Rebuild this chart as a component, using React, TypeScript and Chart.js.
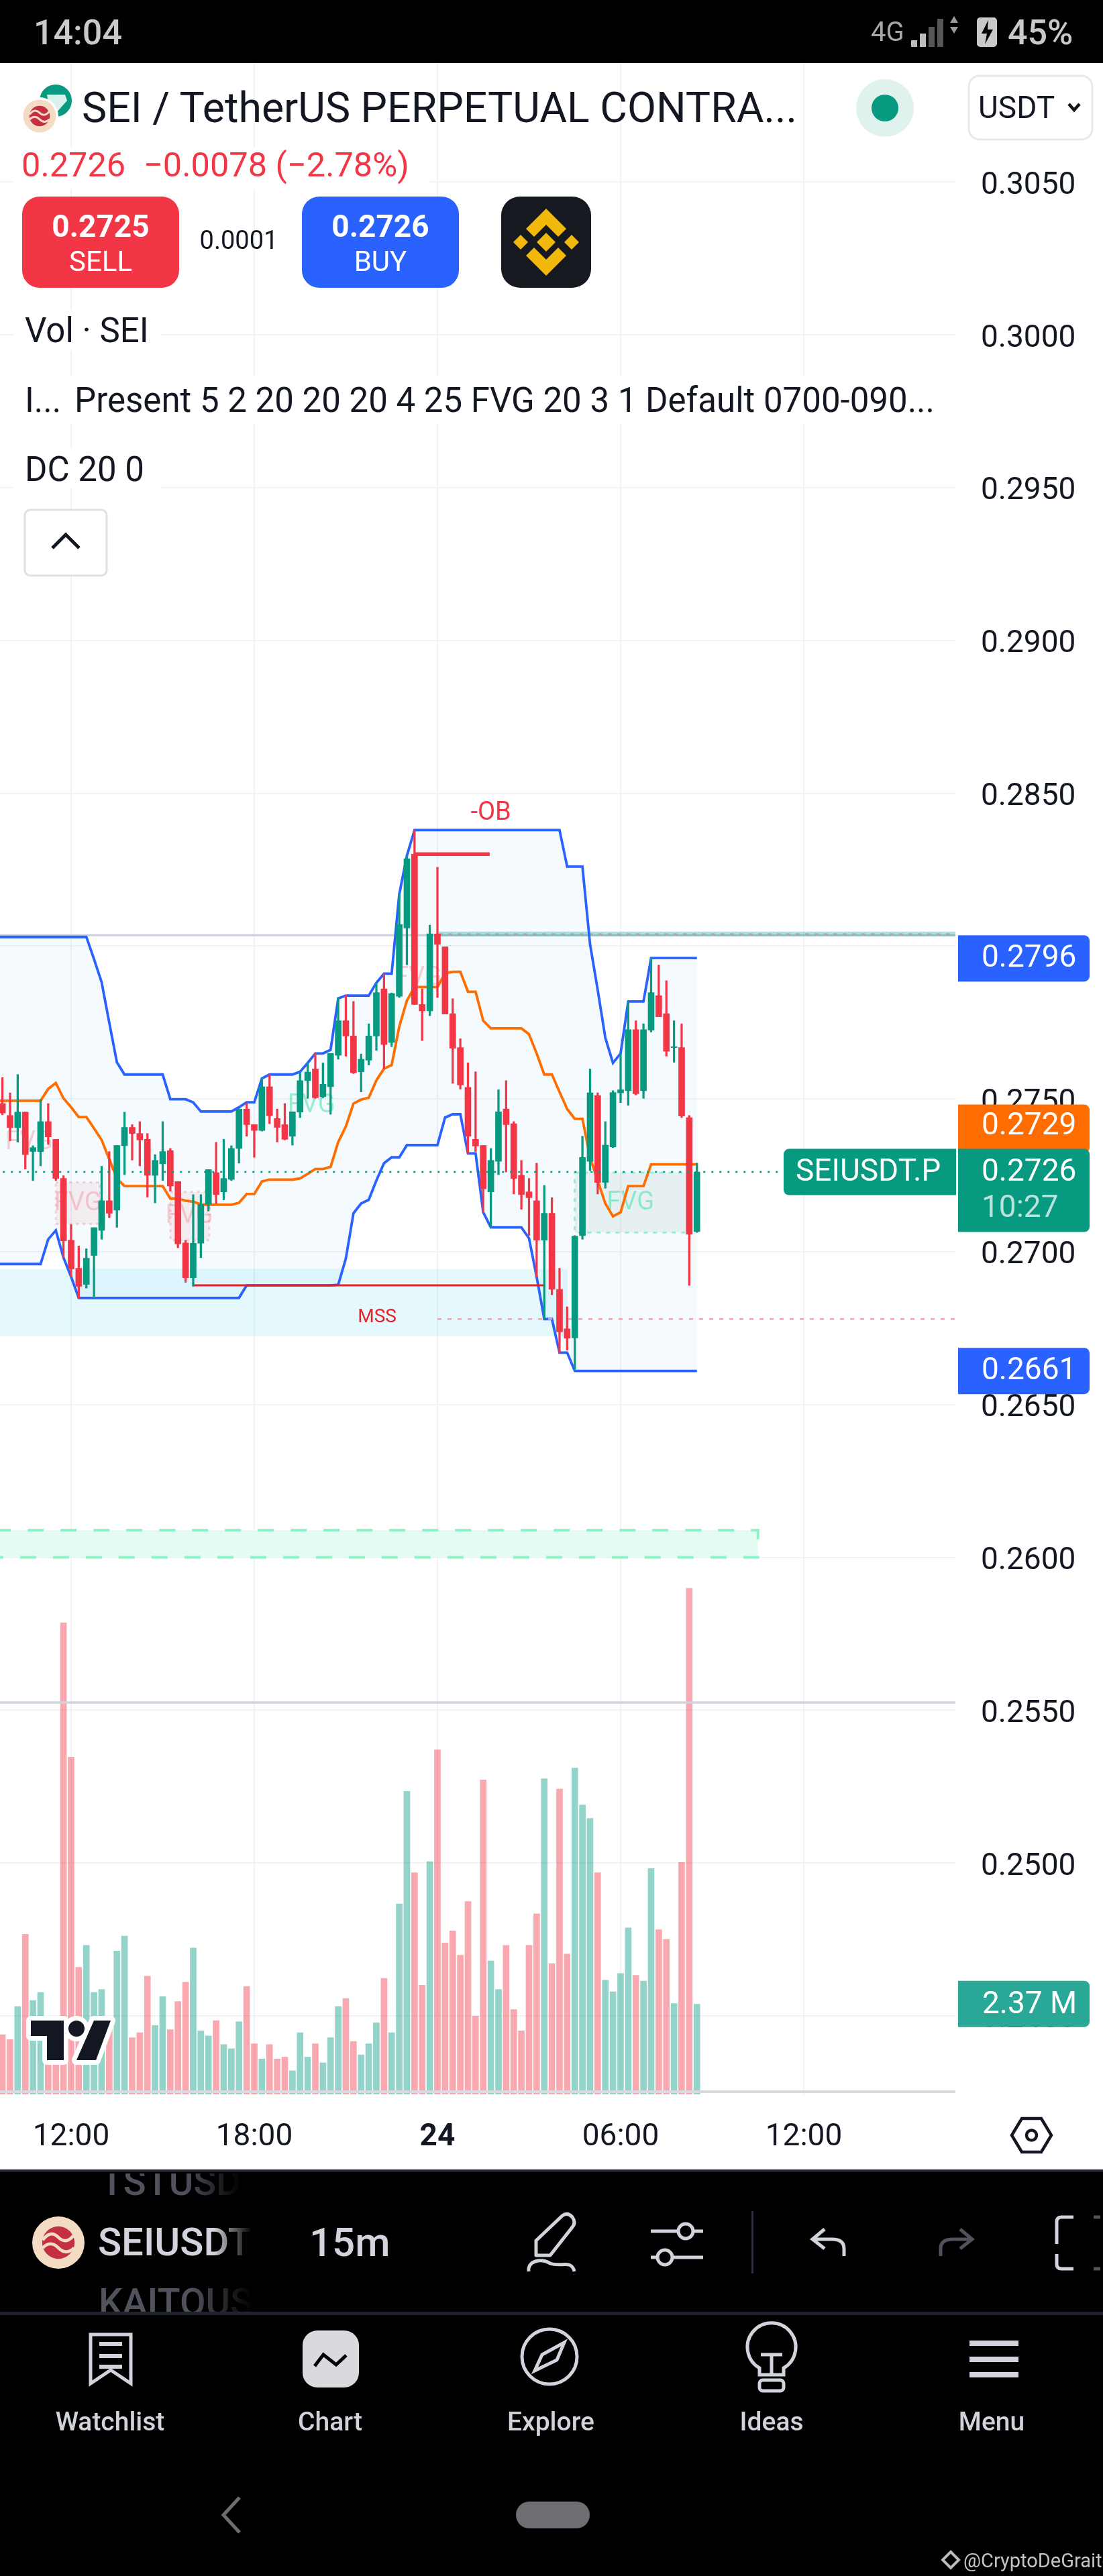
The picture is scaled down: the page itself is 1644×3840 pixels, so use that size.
import React, { useEffect, useRef } from "react";
import { Chart, registerables } from "chart.js";

Chart.register(...registerables);

const FONT = "Roboto";
const GREEN = "#089981";
const RED = "#f23645";
const BLUE = "#2962ff";
const ORANGE = "#ff6d00";

// 15m candles, oldest first
const opens = [
  0.27485, 0.27446, 0.27406, 0.27457, 0.27328, 0.27328, 0.27426, 0.27368, 0.2724, 0.27038, 0.26946, 0.26893,
  0.26988, 0.2707, 0.27167, 0.27136, 0.27347, 0.27407, 0.27387, 0.27368, 0.2725, 0.27288, 0.27331, 0.2723,
  0.27029, 0.26915, 0.27028, 0.27155, 0.27259, 0.27196, 0.27237, 0.27338, 0.27467, 0.27416, 0.27397, 0.2754,
  0.27436, 0.27416, 0.27378, 0.27457, 0.2756, 0.27598, 0.27507, 0.2754, 0.27643, 0.27756, 0.27706, 0.27589,
  0.27627, 0.27706, 0.2786, 0.27685, 0.27836, 0.28059, 0.28301, 0.27809, 0.27788, 0.2804, 0.27998, 0.27779,
  0.27668, 0.27538, 0.27368, 0.27348, 0.27196, 0.27296, 0.27467, 0.27419, 0.2725, 0.27196, 0.27167, 0.27038,
  0.27126, 0.26877, 0.26748, 0.26718, 0.27053, 0.27296, 0.27511, 0.27227, 0.27343, 0.2752, 0.27527, 0.27727,
  0.27527, 0.27725, 0.27838, 0.27779, 0.27668, 0.27668, 0.27439, 0.27066,
];
const highs = [
  0.2757, 0.2752, 0.2758, 0.27457, 0.27347, 0.27498, 0.27485, 0.27368, 0.27249, 0.27089, 0.27019, 0.2701,
  0.27079, 0.2728, 0.27328, 0.27348, 0.27457, 0.27416, 0.27426, 0.27387, 0.27318, 0.27426, 0.27338, 0.2723,
  0.27038, 0.27187, 0.27187, 0.27269, 0.27358, 0.27368, 0.27347, 0.27467, 0.27485, 0.27416, 0.2757, 0.2758,
  0.27467, 0.27485, 0.27458, 0.27586, 0.27618, 0.27649, 0.27618, 0.27649, 0.27832, 0.27838, 0.27819, 0.27647,
  0.27746, 0.2788, 0.27908, 0.27847, 0.2817, 0.28296, 0.2838, 0.2786, 0.28069, 0.28258, 0.27998, 0.27828,
  0.27697, 0.27618, 0.27589, 0.27348, 0.27338, 0.2753, 0.2756, 0.27426, 0.27299, 0.2724, 0.2729, 0.27217,
  0.27177, 0.26946, 0.2682, 0.27053, 0.27378, 0.27598, 0.2752, 0.27426, 0.27527, 0.27649, 0.27819, 0.27756,
  0.27746, 0.27961, 0.27938, 0.27887, 0.27756, 0.27746, 0.27446, 0.2729,
];
const lows = [
  0.27448, 0.27363, 0.27359, 0.27271, 0.27233, 0.27281, 0.27351, 0.27233, 0.26981, 0.26918, 0.26849, 0.26881,
  0.26849, 0.27041, 0.27111, 0.2708, 0.27252, 0.273, 0.27281, 0.27179, 0.2716, 0.27233, 0.27198, 0.27013,
  0.269, 0.26887, 0.26981, 0.27133, 0.27158, 0.2717, 0.27233, 0.2729, 0.27378, 0.27309, 0.27395, 0.27419,
  0.27359, 0.27366, 0.27349, 0.27439, 0.27502, 0.27502, 0.27504, 0.2745, 0.2763, 0.2764, 0.27583, 0.27523,
  0.27611, 0.27659, 0.27599, 0.27671, 0.27832, 0.27939, 0.27809, 0.27691, 0.27772, 0.27832, 0.27778, 0.27551,
  0.27532, 0.27322, 0.27328, 0.27129, 0.2708, 0.27252, 0.27261, 0.27189, 0.27139, 0.27053, 0.26918, 0.2678,
  0.26859, 0.2667, 0.26678, 0.2661, 0.27041, 0.27265, 0.27189, 0.27208, 0.27341, 0.27488, 0.27479, 0.27513,
  0.27502, 0.27719, 0.27769, 0.2764, 0.2762, 0.27439, 0.2689, 0.27063,
];
const closes = [
  0.27454, 0.27406, 0.27457, 0.27318, 0.27341, 0.27426, 0.27376, 0.2724, 0.27036, 0.26944, 0.26887, 0.26979,
  0.27079, 0.27167, 0.27126, 0.27348, 0.27407, 0.27387, 0.27366, 0.2725, 0.27299, 0.27328, 0.27215, 0.27026,
  0.26915, 0.27028, 0.27155, 0.27269, 0.27187, 0.2724, 0.27338, 0.27467, 0.27416, 0.27397, 0.2754, 0.27445,
  0.27407, 0.27368, 0.27458, 0.2756, 0.27588, 0.27504, 0.27548, 0.27649, 0.27756, 0.27706, 0.27586, 0.2763,
  0.27706, 0.27848, 0.27678, 0.27845, 0.28071, 0.28286, 0.27809, 0.27788, 0.2804, 0.28006, 0.27778, 0.27666,
  0.27546, 0.27378, 0.27346, 0.27206, 0.27299, 0.27458, 0.27416, 0.2724, 0.27187, 0.27177, 0.27038, 0.27126,
  0.26877, 0.26738, 0.26717, 0.27051, 0.27309, 0.2752, 0.27227, 0.27349, 0.27521, 0.2753, 0.27727, 0.27517,
  0.27727, 0.27848, 0.27769, 0.27656, 0.27671, 0.27444, 0.27057, 0.27261,
];

// volume in millions
const volumes = [
  1.57, 1.44, 2.31, 4.21, 2.47, 2.68, 1.34, 1.44, 12.4, 8.87, 3.34, 3.92,
  2.68, 2.76, 1.74, 3.77, 4.16, 1.49, 1.62, 3.11, 1.81, 2.57, 1.7, 2.44,
  2.95, 3.85, 1.67, 1.54, 1.94, 1.31, 1.2, 1.91, 2.84, 1.33, 0.93, 1.31,
  0.93, 0.98, 0.62, 1.62, 0.98, 1.33, 0.83, 1.49, 2.31, 2.52, 1.39, 1.04,
  1.33, 1.88, 3.05, 1.62, 5.01, 7.97, 5.83, 2.87, 6.12, 9.06, 3.98, 4.3,
  3.66, 5.07, 2.06, 8.27, 3.51, 2.76, 3.92, 2.23, 1.67, 3.92, 4.75, 8.3,
  3.44, 8.03, 3.69, 8.58, 7.61, 7.26, 5.83, 3.0, 2.7, 3.18, 4.38, 3.13,
  2.98, 5.94, 4.33, 4.08, 2.39, 6.1, 13.31, 2.37,
];

// Donchian channel
const dcUpper = [
  0.2803, 0.2803, 0.2803, 0.2803, 0.2803, 0.2803, 0.2803, 0.2803, 0.2803, 0.2803, 0.2803, 0.2803,
  0.27958, 0.27882, 0.2775, 0.2762, 0.2758, 0.2758, 0.2758, 0.2758, 0.2758, 0.2758, 0.27499, 0.27499,
  0.27499, 0.27489, 0.27459, 0.27459, 0.27459, 0.27459, 0.27459, 0.27473, 0.27489, 0.27489, 0.27567, 0.2758,
  0.2758, 0.2758, 0.2758, 0.27589, 0.27618, 0.27649, 0.27649, 0.27661, 0.27829, 0.27838, 0.27838, 0.27838,
  0.27838, 0.2788, 0.2791, 0.2791, 0.2817, 0.28296, 0.2838, 0.2838, 0.2838, 0.2838, 0.2838, 0.2838,
  0.2838, 0.2838, 0.2838, 0.2838, 0.2838, 0.2838, 0.2838, 0.2838, 0.2838, 0.2838, 0.2838, 0.2838,
  0.2838, 0.2838, 0.2826, 0.2826, 0.2826, 0.28006, 0.27857, 0.277, 0.27618, 0.27649, 0.27819, 0.27819,
  0.27819, 0.27961, 0.27961, 0.27961, 0.27961, 0.27961, 0.27961, 0.27961,
];
const dcLower = [
  0.2696, 0.2696, 0.2696, 0.2696, 0.2696, 0.2696, 0.27041, 0.2707, 0.26981, 0.26918, 0.26849, 0.26849,
  0.26849, 0.26849, 0.26849, 0.26849, 0.26849, 0.26849, 0.26849, 0.26849, 0.26849, 0.26849, 0.26849, 0.26849,
  0.26849, 0.26849, 0.26849, 0.26849, 0.26849, 0.26849, 0.26849, 0.26849, 0.2689, 0.2689, 0.2689, 0.2689,
  0.2689, 0.2689, 0.2689, 0.2689, 0.2689, 0.2689, 0.2689, 0.2689, 0.26892, 0.26978, 0.27126, 0.27158,
  0.2717, 0.27233, 0.2729, 0.27309, 0.27309, 0.27349, 0.27349, 0.27349, 0.27349, 0.27349, 0.27439, 0.2745,
  0.2745, 0.27322, 0.27322, 0.27129, 0.2708, 0.2708, 0.2708, 0.2708, 0.2708, 0.27044, 0.26918, 0.2678,
  0.2678, 0.2667, 0.2667, 0.2661, 0.2661, 0.2661, 0.2661, 0.2661, 0.2661, 0.2661, 0.2661, 0.2661,
  0.2661, 0.2661, 0.2661, 0.2661, 0.2661, 0.2661, 0.2661, 0.2661,
];
const dcBasis = [
  0.27494, 0.27494, 0.27494, 0.27494, 0.27494, 0.27494, 0.27533, 0.27552, 0.27502, 0.27473, 0.27441, 0.27441,
  0.27404, 0.27366, 0.27303, 0.2724, 0.27215, 0.27215, 0.27215, 0.27215, 0.27215, 0.27215, 0.27174, 0.27174,
  0.27167, 0.27164, 0.27155, 0.27154, 0.27154, 0.27154, 0.27154, 0.2716, 0.27189, 0.27189, 0.2723, 0.27236,
  0.27236, 0.27236, 0.27236, 0.2724, 0.27255, 0.27271, 0.27271, 0.27278, 0.27359, 0.2741, 0.27485, 0.27498,
  0.27504, 0.27561, 0.27599, 0.27611, 0.27737, 0.27822, 0.27866, 0.27866, 0.27866, 0.27866, 0.27911, 0.27916,
  0.27916, 0.27851, 0.27851, 0.27756, 0.27731, 0.27731, 0.27731, 0.27731, 0.27731, 0.27712, 0.27649, 0.2758,
  0.2758, 0.27523, 0.27467, 0.27435, 0.27435, 0.27309, 0.27233, 0.27158, 0.27116, 0.27129, 0.27215, 0.27215,
  0.27215, 0.27286, 0.27286, 0.27286, 0.27286, 0.27286, 0.27286, 0.27286,
];

const priceTicks = [
  0.245, 0.25, 0.255, 0.26, 0.265, 0.27, 0.275, 0.28, 0.285, 0.29, 0.295, 0.3, 0.305,
];
const timeBars = [9, 33, 57, 81, 105];
const timeLabels = ["12:00", "18:00", "24", "06:00", "12:00"];

// level lines: bar span, price
const edgeBars = [-1, 125];
const prevHighPrice = [0.28036, 0.28036];
const prevLowPrice = [0.25525, 0.25525];
const volBasePrice = [0.24252, 0.24252];
const tealBars = [57.2, 125];
const tealPrice = [0.2804, 0.2804];
const obBars = [54, 63.85];
const obPrice = [0.28301, 0.28301];
const mssBars = [25, 71];
const mssPrice = [0.2689, 0.2689];
const mssDotBars = [57, 125];
const mssDotPrice = [0.2678, 0.2678];
const lastBars = [-1, 102];
const lastPrice = [0.27261, 0.27261];

// zones: [start bar, end bar, top price, bottom price]
const demandZone = [-1, 74.06, 0.26944, 0.26723];
const greenZone = [-1, 99, 0.26089, 0.26];
const fvgRedA = [7, 12.8, 0.27227, 0.27091];
const fvgRedB = [22, 27.1, 0.27196, 0.27038];
const fvgGreen = [75, 90, 0.27259, 0.27063];

const fvgRedBars = [3.5, 9.9, 24.5, 54.5];
const fvgRedPrices = [0.27356, 0.27158, 0.27116, 0.27895];
const fvgGreenBars = [40.5, 82.3];
const fvgGreenPrices = [0.27477, 0.2716];

const line = (bars: number[], prices: number[]) =>
  bars.map((x, i) => ({ x, y: prices[i] }));
const channel = (prices: number[]) => [
  { x: -1, y: prices[0] },
  ...prices.map((y, x) => ({ x, y })),
];

const candleColors = closes.map((c, i) => (c >= opens[i] ? GREEN : RED));
const volumeColors = closes.map((c, i) =>
  c >= opens[i] ? "rgba(8,153,129,0.43)" : "rgba(242,54,69,0.43)"
);

const roundRect = (
  ctx: CanvasRenderingContext2D,
  x: number,
  y: number,
  w: number,
  h: number,
  radii: number[]
) => {
  ctx.beginPath();
  ctx.roundRect(x, y, w, h, radii);
  ctx.fill();
};

const zonesPlugin = {
  id: "zones",
  beforeDatasetsDraw(chart: any) {
    const { ctx, chartArea, scales } = chart;
    const box = (z: number[], fill: string, stroke?: string, dash?: number[], lw = 3) => {
      const x0 = scales.x.getPixelForValue(z[0]);
      const x1 = scales.x.getPixelForValue(z[1]);
      const y0 = scales.y.getPixelForValue(z[2]);
      const y1 = scales.y.getPixelForValue(z[3]);
      ctx.fillStyle = fill;
      ctx.fillRect(x0, y0, x1 - x0, y1 - y0);
      if (stroke) {
        ctx.strokeStyle = stroke;
        ctx.lineWidth = lw;
        ctx.setLineDash(dash || []);
        ctx.strokeRect(x0, y0, x1 - x0, y1 - y0);
        ctx.setLineDash([]);
      }
    };
    const label = (text: string, bar: number, price: number, color: string, font: string) => {
      ctx.fillStyle = color;
      ctx.font = font;
      ctx.textAlign = "center";
      ctx.textBaseline = "middle";
      ctx.fillText(text, scales.x.getPixelForValue(bar), scales.y.getPixelForValue(price));
    };
    ctx.save();
    ctx.beginPath();
    ctx.rect(chartArea.left, chartArea.top, chartArea.right - chartArea.left, chartArea.bottom - chartArea.top);
    ctx.clip();
    box(demandZone, "rgba(0,200,235,0.1)");
    box(greenZone, "#e4fbf1", "#8ff3c8", [24, 25], 4);
    box(fvgRedA, "rgba(242,54,69,0.07)", "rgba(242,54,69,0.22)", [4, 6]);
    box(fvgRedB, "rgba(242,54,69,0.07)", "rgba(242,54,69,0.22)", [4, 6]);
    box(fvgGreen, "rgba(60,120,90,0.07)", "#a4f1d0", [6, 8]);
    fvgRedBars.forEach((b, i) =>
      label("FVG", b, fvgRedPrices[i], "rgba(242,54,69,0.24)", `38px ${FONT}`)
    );
    fvgGreenBars.forEach((b, i) =>
      label("FVG", b, fvgGreenPrices[i], "rgba(0,220,130,0.38)", `38px ${FONT}`)
    );
    label("MSS", 49.1, 0.26786, "#e8202a", `28px ${FONT}`);
    label("-OB", 64, 0.28434, RED, `38px ${FONT}`);
    ctx.restore();
  },
};

const badgesPlugin = {
  id: "badges",
  afterDraw(chart: any) {
    const { ctx, scales } = chart;
    const y = scales.y;
    const left = 1428;
    const width = 196;
    const textX = 1463;
    const h = 69;
    const text = (t: string, x: number, cy: number, color = "#fff") => {
      ctx.fillStyle = color;
      ctx.font = `46px ${FONT}`;
      ctx.textAlign = "left";
      ctx.textBaseline = "middle";
      ctx.fillText(t, x, cy);
    };
    const badge = (label: string, cy: number, color: string) => {
      ctx.fillStyle = color;
      roundRect(ctx, left, cy - h / 2, width, h, [0, 8, 8, 0]);
      text(label, textX, cy + 1);
    };
    ctx.save();
    badge("0.2796", y.getPixelForValue(0.2796), BLUE);
    badge("0.2661", y.getPixelForValue(0.2661), BLUE);

    const lastY = y.getPixelForValue(0.2726);
    const orangeY = lastY - 69;
    ctx.fillStyle = ORANGE;
    roundRect(ctx, left, orangeY - 32, width, 72, [0, 8, 8, 0]);
    text("0.2729", textX, orangeY + 1);

    const top = lastY - 35;
    ctx.fillStyle = GREEN;
    roundRect(ctx, left, top, width, 124, [0, 8, 8, 0]);
    text("0.2726", textX, lastY + 1);
    text("10:27", textX, lastY + 55, "rgba(255,255,255,0.72)");

    ctx.fillStyle = GREEN;
    roundRect(ctx, 1168, top, 257, 69, [8, 0, 0, 8]);
    text("SEIUSDT.P", 1186, lastY + 1);

    const volY = scales.yVol.getPixelForValue(2.37);
    ctx.fillStyle = "#2aa897";
    roundRect(ctx, left, volY - 35, width, 69, [0, 8, 8, 0]);
    text("2.37 M", textX + 1, volY + 2);
    ctx.restore();
  },
};

const Candles = () => {
  const canvasRef = useRef<HTMLCanvasElement | null>(null);

  useEffect(() => {
    if (!canvasRef.current) return;
    const chart = new Chart(canvasRef.current, {
      type: "bar",
      plugins: [zonesPlugin, badgesPlugin],
      data: {
        datasets: [
          {
            type: "bar",
            order: 100,
            yAxisID: "yVol",
            grouped: false,
            barThickness: 9,
            data: volumes.map((y, x) => ({ x, y })),
            backgroundColor: volumeColors,
          },
          {
            type: "line",
            order: 90,
            data: line(edgeBars, prevHighPrice),
            borderColor: "#d1d4dc",
            borderWidth: 3.5,
            pointRadius: 0,
          },
          {
            type: "line",
            order: 90,
            data: line(edgeBars, prevLowPrice),
            borderColor: "#d1d4dc",
            borderWidth: 3.5,
            pointRadius: 0,
          },
          {
            type: "line",
            order: 90,
            data: line(edgeBars, volBasePrice),
            borderColor: "#d8dae0",
            borderWidth: 4,
            pointRadius: 0,
          },
          {
            type: "line",
            order: 89,
            data: line(tealBars, tealPrice),
            borderColor: "rgba(0,160,150,0.32)",
            borderWidth: 7,
            pointRadius: 0,
          },
          {
            type: "line",
            order: 88,
            data: line(tealBars, tealPrice),
            borderColor: "rgba(190,120,110,0.55)",
            borderWidth: 2,
            borderDash: [5, 9],
            pointRadius: 0,
          },
          {
            type: "line",
            order: 80,
            data: channel(dcUpper),
            borderColor: BLUE,
            borderWidth: 3.8,
            pointRadius: 0,
            tension: 0,
            fill: "+1",
            backgroundColor: "rgba(33,150,243,0.05)",
          },
          {
            type: "line",
            order: 79,
            data: channel(dcLower),
            borderColor: BLUE,
            borderWidth: 3.8,
            pointRadius: 0,
            tension: 0,
          },
          {
            type: "line",
            order: 78,
            data: channel(dcBasis),
            borderColor: ORANGE,
            borderWidth: 3.8,
            pointRadius: 0,
            tension: 0,
          },
          {
            type: "line",
            order: 70,
            data: line(mssBars, mssPrice),
            borderColor: "#e8202a",
            borderWidth: 3,
            pointRadius: 0,
          },
          {
            type: "line",
            order: 70,
            data: line(mssDotBars, mssDotPrice),
            borderColor: "#f9a0a5",
            borderWidth: 2.5,
            borderDash: [6, 9],
            pointRadius: 0,
          },
          {
            type: "bar",
            order: 20,
            grouped: false,
            barThickness: 2.6,
            data: highs.map((h, x) => ({ x, y: [lows[x], h] })),
            backgroundColor: candleColors,
          },
          {
            type: "bar",
            order: 19,
            grouped: false,
            barThickness: 9,
            data: opens.map((o, x) => ({ x, y: [o, closes[x]] })),
            backgroundColor: candleColors,
          },
          {
            type: "line",
            order: 10,
            data: line(obBars, obPrice),
            borderColor: RED,
            borderWidth: 5.5,
            pointRadius: 0,
          },
          {
            type: "line",
            order: 5,
            data: line(lastBars, lastPrice),
            borderColor: GREEN,
            borderWidth: 2.5,
            borderDash: [3, 9],
            pointRadius: 0,
          },
        ] as any,
      },
      options: {
        responsive: false,
        animation: false,
        events: [],
        layout: { padding: 0 },
        plugins: { legend: { display: false }, tooltip: { enabled: false } },
        scales: {
          x: {
            type: "linear",
            offset: false,
            min: -0.3165,
            max: 124.87,
            border: { display: false },
            grid: { color: "#f2f3f5", lineWidth: 2, drawTicks: false, offset: false },
            afterBuildTicks: (scale: any) => {
              scale.ticks = timeBars.map((value) => ({ value }));
            },
            afterFit: (scale: any) => {
              scale.height = 113;
              scale.paddingLeft = 0;
              scale.paddingRight = 0;
            },
            ticks: {
              autoSkip: false,
              maxRotation: 0,
              minRotation: 0,
              padding: 37,
              color: "#131722",
              font: (ctx: any) => ({
                family: FONT,
                size: 46,
                weight: ctx.tick && ctx.tick.value === 57 ? "700" : "400",
              }),
              callback: (v: any) => timeLabels[timeBars.indexOf(Number(v))],
            },
          },
          y: {
            position: "right",
            min: 0.242432,
            max: 0.308894,
            border: { display: false },
            grid: { color: "#f2f3f5", lineWidth: 2, drawTicks: false },
            afterBuildTicks: (scale: any) => {
              scale.ticks = priceTicks.map((value) => ({ value }));
            },
            afterFit: (scale: any) => {
              scale.width = 220;
              scale.paddingTop = 0;
              scale.paddingBottom = 0;
            },
            ticks: {
              autoSkip: false,
              padding: 38,
              color: "#131722",
              // blank first line nudges the label just under its gridline
              font: { family: FONT, size: 46, lineHeight: 0.26 },
              callback: (v: any) => ["", Number(v).toFixed(4)],
            },
          },
          yVol: {
            display: false,
            min: 0,
            max: 53.42,
          },
        },
      } as any,
    });
    return () => {
      chart.destroy();
    };
  }, []);

  return (
    <canvas
      ref={canvasRef}
      width={1644}
      height={3141}
      style={{ position: "absolute", left: 0, top: 94, width: 1644, height: 3141 }}
    />
  );
};

const T = ({ x, y, s, c = "#131722", w = 400, a = "start", children }: any) => (
  <text x={x} y={y} fontSize={s} fill={c} fontWeight={w} textAnchor={a} dominantBaseline="central">
    {children}
  </text>
);

const SeiIcon = ({ cx, cy, r }: any) => (
  <g>
    <circle cx={cx} cy={cy} r={r} fill="#f4dcc4" />
    <circle cx={cx} cy={cy} r={r * 0.62} fill="#c42f45" />
    <path
      d={`M${cx - r * 0.6} ${cy - r * 0.1} q${r * 0.3} ${-r * 0.4} ${r * 0.6} ${-r * 0.1} t${r * 0.6} ${-r * 0.1} M${cx - r * 0.6} ${cy + r * 0.2} q${r * 0.3} ${-r * 0.3} ${r * 0.6} 0 t${r * 0.6} 0`}
      stroke="#f4dcc4"
      strokeWidth={r * 0.12}
      fill="none"
    />
  </g>
);

const BinanceLogo = ({ cx, cy }: any) => (
  <g transform={`translate(${cx} ${cy})`} fill="#f0b90b">
    <path d="M0 -50 L30 -20 L18 -8 L0 -26 L-18 -8 L-30 -20 Z" />
    <path d="M0 50 L30 20 L18 8 L0 26 L-18 8 L-30 20 Z" />
    <path d="M0 -14 L14 0 L0 14 L-14 0 Z" />
    <path d="M-38 -11 L-27 0 L-38 11 L-49 0 Z" />
    <path d="M38 -11 L49 0 L38 11 L27 0 Z" />
  </g>
);

const Chrome = () => (
  <svg
    width={1644}
    height={3840}
    viewBox="0 0 1644 3840"
    style={{ position: "absolute", left: 0, top: 0, pointerEvents: "none", fontFamily: FONT }}
  >
    <defs>
      <linearGradient id="fade" x1="0" x2="1" y1="0" y2="0">
        <stop offset="0.75" stopColor="#d1d4dc" />
        <stop offset="1" stopColor="#d1d4dc" stopOpacity="0" />
      </linearGradient>
      <linearGradient id="fadeDim" x1="0" x2="1" y1="0" y2="0">
        <stop offset="0.6" stopColor="#50535e" />
        <stop offset="1" stopColor="#50535e" stopOpacity="0" />
      </linearGradient>
      <clipPath id="toolbarClip">
        <rect x="0" y="3240" width="1644" height="206" />
      </clipPath>
    </defs>

    {/* status bar */}
    <rect x="0" y="0" width="1644" height="94" fill="#000" />
    <T x={50} y={48} s={52} c="#c9c9c9" w={500}>14:04</T>
    <T x={1298} y={47} s={40} c="#a8a8a8">4G</T>
    <g fill="#555">
      <rect x="1358" y="60" width="9" height="10" fill="#bdbdbd" />
      <rect x="1371" y="50" width="9" height="20" fill="#bdbdbd" />
      <rect x="1384" y="40" width="9" height="30" />
      <rect x="1397" y="28" width="9" height="42" />
    </g>
    <path d="M1416 34 L1422 24 L1428 34 Z M1416 40 L1422 50 L1428 40 Z" fill="#9a9a9a" />
    <rect x="1456" y="26" width="30" height="44" rx="5" fill="#c9c9c9" />
    <path d="M1473 30 L1463 50 L1471 50 L1468 66 L1480 44 L1472 44 Z" fill="#000" />
    <T x={1502} y={48} s={52} c="#c9c9c9" w={500}>45%</T>

    {/* header */}
    <circle cx="83" cy="150" r="24" fill={GREEN} />
    <path d="M70 141 H97 L100 150 L84 168 L72 154 Z" fill="#d8f2ec" />
    <circle cx="59" cy="173" r="28" fill="#fff" />
    <SeiIcon cx={59} cy={173} r={24.5} />
    <T x={122} y={160} s={62.6} c="#131722">SEI / TetherUS PERPETUAL CONTRA...</T>
    <circle cx="1319" cy="161" r="43" fill="#dff2ee" />
    <circle cx="1319" cy="161" r="20" fill={GREEN} />
    <rect x="1444" y="113" width="184" height="95" rx="16" fill="#fff" stroke="#e6e8ee" strokeWidth="3" />
    <T x={1458} y={160} s={46} c="#131722">USDT</T>
    <path d="M1593 155 L1601 164 L1609 155" stroke="#131722" strokeWidth="4.5" fill="none" />

    <rect x="20" y="220" width="620" height="62" fill="#fff" />
    <T x={32} y={245} s={50.5} c={RED}>0.2726</T>
    <T x={214} y={245} s={50.5} c={RED}>−0.0078 (−2.78%)</T>

    <rect x="33" y="293" width="234" height="136" rx="26" fill={RED} />
    <T x={150} y={337} s={46} c="#fff" w={700} a="middle">0.2725</T>
    <T x={150} y={389} s={42} c="#fff" a="middle">SELL</T>
    <T x={356} y={358} s={38} c="#131722" a="middle">0.0001</T>
    <rect x="450" y="293" width="234" height="136" rx="26" fill={BLUE} />
    <T x={567} y={337} s={46} c="#fff" w={700} a="middle">0.2726</T>
    <T x={567} y={389} s={42} c="#fff" a="middle">BUY</T>
    <rect x="747" y="293" width="134" height="136" rx="28" fill="#16191f" />
    <BinanceLogo cx={814} cy={361} />

    <rect x="20" y="462" width="220" height="60" fill="#fff" />
    <T x={37} y={492} s={51} c="#131722">Vol · SEI</T>
    <rect x="20" y="560" width="1380" height="72" fill="#fff" />
    <T x={37} y={596} s={51} c="#131722">I...</T>
    <T x={111} y={596} s={51} c="#131722">Present 5 2 20 20 20 4 25 FVG 20 3 1 Default 0700-090...</T>
    <rect x="20" y="668" width="220" height="60" fill="#fff" />
    <T x={37} y={699} s={51} c="#131722">DC 20 0</T>

    <rect x="37" y="760" width="122" height="98" rx="8" fill="#fff" stroke="#dfe1e6" strokeWidth="3" />
    <path d="M78 817 L98 797 L118 817" stroke="#131722" strokeWidth="5" fill="none" />

    {/* TradingView logo */}
    <g fill="#fff" stroke="#fff" strokeWidth="14" strokeLinejoin="round">
      <path d="M46 3012 H95 V3071 H70 V3035 H46 Z" />
      <circle cx="114" cy="3024" r="12" />
      <path d="M140 3012 H165 L143 3071 H114 Z" />
    </g>
    <g fill="#131722">
      <path d="M46 3012 H95 V3071 H70 V3035 H46 Z" />
      <circle cx="114" cy="3024" r="12" />
      <path d="M140 3012 H165 L143 3071 H114 Z" />
    </g>

    {/* scale settings */}
    <path d="M1508 3183 L1523 3158 H1552 L1567 3183 L1552 3208 H1523 Z" fill="none" stroke="#131722" strokeWidth="4.5" />
    <circle cx="1537.5" cy="3183" r="7.5" fill="none" stroke="#131722" strokeWidth="4.5" />

    {/* toolbar */}
    <rect x="0" y="3235" width="1644" height="605" fill="#000" />
    <rect x="0" y="3234" width="1644" height="4" fill="#20232c" />
    <rect x="0" y="3446" width="1644" height="5" fill="#20232c" />
    <g clipPath="url(#toolbarClip)">
      <T x={150} y={3253} s={56} c="url(#fadeDim)" w={500}>TSTUSD</T>
      <T x={147} y={3432} s={56} c="url(#fadeDim)" w={500}>KAITOUS</T>
    </g>
    <SeiIcon cx={87} cy={3343} r={39} />
    <T x={146} y={3342} s={58} c="url(#fade)" w={500}>SEIUSDT</T>
    <T x={461} y={3342} s={60} c="#d1d4dc" w={500}>15m</T>

    <g stroke="#d1d4dc" strokeWidth="5" fill="none" strokeLinejoin="round">
      <path d="M799 3362 V3340 L838 3303 Q846 3297 853 3305 Q859 3313 853 3320 L820 3362 Z" />
      <path d="M788 3386 C786 3370 806 3366 820 3374 C836 3380 852 3368 856 3386" />
      <path d="M970 3326 H1048 M970 3365 H1048" />
      <circle cx="1022" cy="3326" r="11" fill="#000" />
      <circle cx="991" cy="3365" r="11" fill="#000" />
    </g>
    <rect x="1120" y="3296" width="3" height="93" fill="#2a2e39" />
    <path d="M1258 3363 V3352 Q1258 3338 1240 3338 H1213 M1229 3323 L1211 3338 L1229 3352" fill="none" stroke="#d1d4dc" strokeWidth="5" />
    <path d="M1402 3363 V3352 Q1402 3338 1420 3338 H1447 M1431 3323 L1449 3338 L1431 3352" fill="none" stroke="#50535e" strokeWidth="5" />
    <path d="M1600 3305 H1582 Q1575 3305 1575 3312 V3345 M1575 3360 V3375 Q1575 3382 1582 3382 H1600" fill="none" stroke="#d1d4dc" strokeWidth="5" />
    <path d="M1630 3305 H1640 M1630 3382 H1640" stroke="#50535e" strokeWidth="5" />

    {/* bottom nav */}
    <g stroke="#d1d4dc" strokeWidth="5" fill="none">
      <path d="M135 3480 H195 V3553 L165 3533 L135 3553 Z" />
      <path d="M148 3494 H182 M148 3512 H182 M148 3528 H182" strokeWidth="6" />
      <circle cx="819" cy="3513" r="41" />
      <path d="M841 3492 L808 3510 L797 3534 L830 3518 Z" />
      <path d="M1132 3530 A36 36 0 1 1 1168 3530 V3540 H1132 Z" />
      <path d="M1134 3510 H1166 M1150 3510 V3540" />
      <rect x="1132" y="3548" width="36" height="16" rx="5" />
    </g>
    <rect x="451" y="3474" width="84" height="85" rx="22" fill="#d8dade" />
    <path d="M469 3527 L482 3510 L501 3525 L516 3511" stroke="#000" strokeWidth="5" fill="none" />
    <rect x="1445" y="3489" width="73" height="8" fill="#d1d4dc" />
    <rect x="1445" y="3513" width="73" height="8" fill="#d1d4dc" />
    <rect x="1445" y="3536" width="73" height="8" fill="#d1d4dc" />

    <T x={164} y={3610} s={39} c="#d1d4dc" w={500} a="middle">Watchlist</T>
    <T x={492} y={3610} s={39} c="#d1d4dc" w={500} a="middle">Chart</T>
    <T x={821} y={3610} s={39} c="#d1d4dc" w={500} a="middle">Explore</T>
    <T x={1150} y={3610} s={39} c="#d1d4dc" w={500} a="middle">Ideas</T>
    <T x={1478} y={3610} s={39} c="#d1d4dc" w={500} a="middle">Menu</T>

    {/* system nav */}
    <path d="M357 3723 L333 3749 L357 3775" fill="none" stroke="#6d6e72" strokeWidth="5" />
    <rect x="769" y="3729" width="110" height="40" rx="20" fill="#6d6e72" />
    <path d="M1417 3804 L1429 3816 L1417 3828 L1405 3816 Z" fill="none" stroke="#bbb" strokeWidth="4" />
    <T x={1436} y={3817} s={29} c="#c4c4c4">@CryptoDeGraite</T>
  </svg>
);

export default function App() {
  return (
    <div
      style={{
        position: "absolute",
        left: 0,
        top: 0,
        width: 1644,
        height: 3840,
        overflow: "hidden",
        background: "#fff",
      }}
    >
      <Candles />
      <Chrome />
    </div>
  );
}
